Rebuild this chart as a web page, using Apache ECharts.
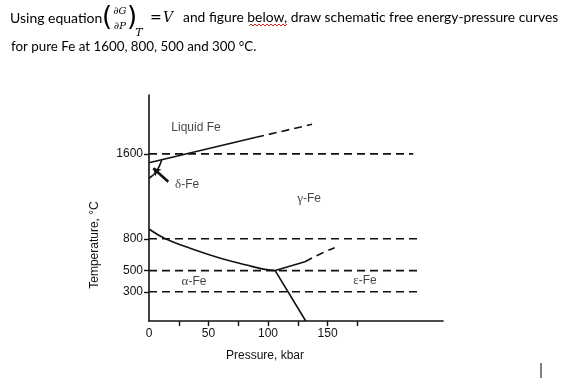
<!DOCTYPE html>
<html>
<head>
<meta charset="utf-8">
<script src="https://cdn.jsdelivr.net/npm/echarts@6/dist/echarts.min.js"></script>
<style>
  html, body { margin: 0; padding: 0; background: #fff; }
  #chart { width: 568px; height: 380px; }
</style>
</head>
<body>
<div id="chart"></div>
<script>
// points are [pressure (kbar), temperature (C)]
const tempLevels = [1600, 800, 500, 300];
const levelEnds = [222, 226, 226, 226];
const xTickValues = [25, 50, 75, 100, 125, 150, 175];
const xLabelValues = [0, 50, 100, 150];

const liquidSolid = [[0, 1517], [90, 1756]];
const liquidDashed = [[90, 1756], [137, 1879]];
const deltaArc = [[0, 1370], [2.6, 1392], [5.9, 1430], [8.4, 1477], [10.7, 1545]];
const alphaGamma = [[0, 892], [13, 805], [34.5, 710], [60, 616], [82, 552], [96, 514], [106, 500]];
const gammaEpsSolid = [[106, 500], [131, 584]];
const gammaEpsDashed = [[131, 584], [145, 663], [156, 716]];
const alphaEps = [[106, 500], [131.7, 25]];
const arrowLine = [[16.2, 1338], [3.6, 1464]];
const leaderMark = [[-17.4, 1542], [-10.3, 1457]];

const phaseNames = ['Liquid Fe', 'δ-Fe', 'γ-Fe', 'α-Fe', 'ε-Fe'];
const phaseSpots = [[39.5, 1844], [32, 1307], [134.5, 1175], [37.8, 393], [181.5, 402]];

const chart = echarts.init(document.getElementById('chart'));

const ink = '#111';
const labelFont = 'Liberation Sans';
const dash = [8, 5];

function boundary(data, dashed, smooth) {
  return {
    type: 'line',
    data: data,
    showSymbol: false,
    smooth: smooth ? 0.4 : false,
    clip: false,
    silent: true,
    lineStyle: { color: ink, width: 1.6, type: dashed ? dash : 'solid' }
  };
}

const series = [];
tempLevels.forEach(function (t, i) {
  series.push(boundary([[0, t], [levelEnds[i], t]], true));
});
series.push(boundary(liquidSolid, false));
series.push(boundary(liquidDashed, true));
series.push(boundary(deltaArc, false, true));
series.push(boundary(alphaGamma, false, true));
series.push(boundary(gammaEpsSolid, false));
series.push(boundary(gammaEpsDashed, true, true));
series.push(boundary(alphaEps, false));
series.push({
  type: 'line', data: leaderMark, showSymbol: false, clip: false, silent: true,
  lineStyle: { color: ink, width: 2.6 }
});
series.push({
  type: 'lines',
  coordinateSystem: 'cartesian2d',
  silent: true,
  symbol: ['none', 'arrow'],
  symbolSize: 7,
  lineStyle: { color: ink, width: 2.6, opacity: 1 },
  data: [{ coords: arrowLine }]
});

// greek letters in the phase names are set in a serif face, as in the figure
function phaseText(name) {
  const greek = /^[αγδε]/.test(name);
  return greek ? '{g|' + name.charAt(0) + '}' + name.slice(1) : name;
}

series.push({
  type: 'scatter',
  symbolSize: 0,
  silent: true,
  data: phaseSpots.map(function (p, i) { return { name: phaseNames[i], value: p }; }),
  label: {
    show: true, position: 'inside',
    formatter: function (d) { return phaseText(d.name); },
    color: ink, fontFamily: labelFont, fontSize: 12,
    rich: { g: { fontFamily: 'Liberation Serif', fontSize: 13, color: ink } }
  }
});

// red spell-check squiggle under "below,"
const squiggle = [];
for (let x = 249; x <= 288; x += 2) squiggle.push([x, (x - 249) % 4 === 0 ? 26 : 24]);

const plain = function (v) { return String(v); };

chart.setOption({
  animation: false,
  backgroundColor: '#fff',
  grid: { left: 149, right: 125, top: 95, bottom: 59 },
  xAxis: {
    type: 'value', min: 0, max: 247,
    axisLine: { lineStyle: { color: ink, width: 1.6 } },
    axisTick: { show: true, length: 5, customValues: xTickValues, lineStyle: { color: ink, width: 1.4 } },
    axisLabel: { customValues: xLabelValues, formatter: plain, color: ink, fontFamily: labelFont, fontSize: 12, margin: 7 },
    splitLine: { show: false }
  },
  yAxis: {
    type: 'value', min: 25, max: 2155,
    axisLine: { show: true, lineStyle: { color: ink, width: 1.6 } },
    axisTick: { show: true, length: 5, customValues: tempLevels, lineStyle: { color: ink, width: 1.4 } },
    axisLabel: { customValues: tempLevels, formatter: plain, color: ink, fontFamily: labelFont, fontSize: 12, margin: 6 },
    splitLine: { show: false }
  },
  series: series,
  graphic: [
    { type: 'text', x: 10, y: 18, style: { text: 'Using equation', font: '14px Lato', fill: '#000', verticalAlign: 'middle' } },
    { type: 'text', x: 107, y: 18, style: { text: '(', font: '26px "DejaVu Sans"', fill: '#000', align: 'center', verticalAlign: 'middle' } },
    { type: 'text', x: 120, y: 11, style: { text: '∂G', font: 'italic 10px "DejaVu Serif"', fill: '#000', align: 'center', verticalAlign: 'middle' } },
    { type: 'text', x: 120, y: 26, style: { text: '∂P', font: 'italic 10px "DejaVu Serif"', fill: '#000', align: 'center', verticalAlign: 'middle' } },
    { type: 'text', x: 132, y: 18, style: { text: ')', font: '26px "DejaVu Sans"', fill: '#000', align: 'center', verticalAlign: 'middle' } },
    { type: 'text', x: 139, y: 33, style: { text: 'T', font: 'italic 11px "DejaVu Serif"', fill: '#000', align: 'center', verticalAlign: 'middle' } },
    { type: 'text', x: 150, y: 18, style: { text: '=', font: '14px "DejaVu Serif"', fill: '#000', verticalAlign: 'middle' } },
    { type: 'text', x: 163, y: 18, style: { text: 'V', font: 'italic 14px "DejaVu Serif"', fill: '#000', verticalAlign: 'middle' } },
    { type: 'text', x: 183, y: 18, style: { text: 'and figure below, draw schematic free energy-pressure curves', font: '13.85px Lato', fill: '#000', verticalAlign: 'middle' } },
    { type: 'text', x: 11, y: 47, style: { text: 'for pure Fe at 1600, 800, 500 and 300 °C.', font: '13.35px Lato', fill: '#000', verticalAlign: 'middle' } },
    { type: 'polyline', shape: { points: squiggle }, style: { stroke: '#d02020', lineWidth: 1, fill: null } },
    { type: 'text', x: 265, y: 356, style: { text: 'Pressure, kbar', font: '12px "Liberation Sans"', fill: ink, align: 'center', verticalAlign: 'middle' } },
    { type: 'text', x: 95, y: 245, rotation: Math.PI / 2, style: { text: 'Temperature, °C', font: '12px "Liberation Sans"', fill: ink, align: 'center', verticalAlign: 'middle' } },
    { type: 'line', shape: { x1: 541, y1: 363, x2: 541, y2: 378 }, style: { stroke: '#000', lineWidth: 1 } }
  ]
});
</script>
</body>
</html>
